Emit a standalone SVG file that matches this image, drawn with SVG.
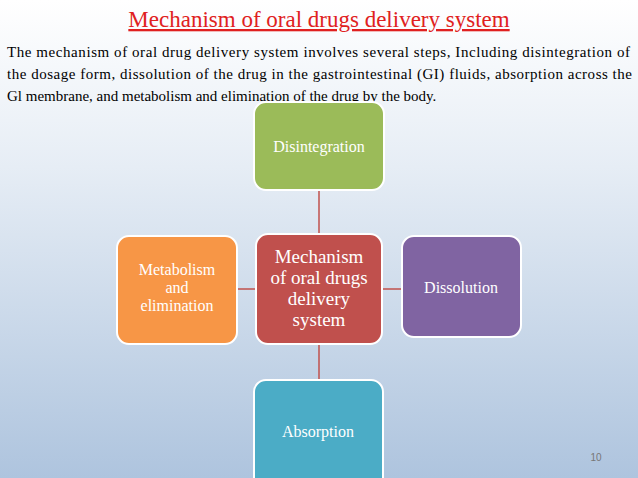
<svg xmlns="http://www.w3.org/2000/svg" width="638" height="478" viewBox="0 0 638 478">
<defs>
<linearGradient id="bg" x1="0" y1="0" x2="0" y2="1">
<stop offset="0" stop-color="#ffffff"/><stop offset="0.35" stop-color="#e6edf5"/><stop offset="1" stop-color="#aec4de"/>
</linearGradient>
<style>
.n{stroke:#fff;stroke-width:2}
.t{font-family:"Liberation Serif",serif;fill:#fff;text-anchor:middle}
.p{font-family:"Liberation Serif",serif;font-size:15px;fill:#000}
</style>
</defs>
<rect width="638" height="478" fill="url(#bg)"/>
<text x="319" y="27" font-family="Liberation Serif,serif" font-size="23" fill="#e02020" text-anchor="middle" text-decoration="underline">Mechanism of oral drugs delivery system</text>
<text class="p" x="7" y="57" textLength="623" lengthAdjust="spacing">The mechanism of oral drug delivery system involves several steps, Including disintegration of</text>
<text class="p" x="7" y="79" textLength="625" lengthAdjust="spacing">the dosage form, dissolution of the drug in the gastrointestinal (GI) fluids, absorption across the</text>
<text class="p" x="7" y="101">Gl membrane, and metabolism and elimination of the drug by the body.</text>
<g id="connectors" stroke="#c0504d" stroke-width="1.5">
<line x1="319" y1="190" x2="319" y2="234"/>
<line x1="319" y1="344" x2="319" y2="380"/>
<line x1="237" y1="289" x2="256" y2="289"/>
<line x1="382" y1="289" x2="402" y2="289"/>
</g>
<g id="disintegration"><rect class="n" x="254" y="102" width="130" height="88" rx="12" fill="#9bbb59"/><text class="t" x="319" y="152" font-size="16">Disintegration</text></g>
<g id="center"><rect class="n" x="256" y="234" width="126" height="110" rx="12" fill="#c0504d"/>
<text class="t" font-size="19"><tspan x="319" y="263">Mechanism</tspan><tspan x="319" y="284">of oral drugs</tspan><tspan x="319" y="305">delivery</tspan><tspan x="319" y="326">system</tspan></text></g>
<g id="metabolism"><rect class="n" x="117" y="236" width="120" height="108" rx="12" fill="#f79646"/>
<text class="t" font-size="16"><tspan x="177" y="275">Metabolism</tspan><tspan x="177" y="293">and</tspan><tspan x="177" y="311">elimination</tspan></text></g>
<g id="dissolution"><rect class="n" x="402" y="236" width="119" height="101" rx="12" fill="#8064a2"/><text class="t" x="461" y="293" font-size="16">Dissolution</text></g>
<g id="absorption"><rect class="n" x="254" y="380" width="129" height="110" rx="12" fill="#4bacc6"/><text class="t" x="318" y="437" font-size="16">Absorption</text></g>
<text x="596" y="461" font-family="Liberation Sans,sans-serif" font-size="10" fill="#777" text-anchor="middle">10</text>
</svg>
